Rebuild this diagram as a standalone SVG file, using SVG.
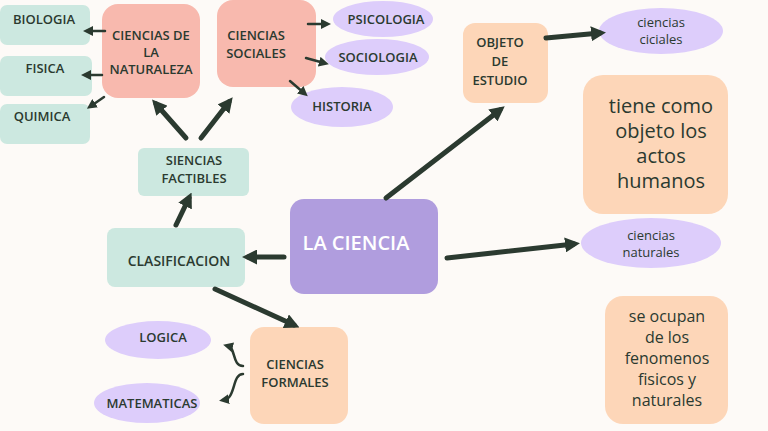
<svg xmlns="http://www.w3.org/2000/svg" width="768" height="431" viewBox="0 0 768 431">
<defs>
<style>
.t{font-family:"Open Sans","DejaVu Sans",sans-serif;fill:#2b3a30;font-size:13px;font-weight:600;text-anchor:middle}
.l{font-weight:400}
.b{font-size:20px}
.c{stroke:#2b3a30;stroke-width:2.5;fill:none;stroke-linecap:round}
.k{stroke-width:5}
.teal{fill:#cce8e0}.pink{fill:#f8b9ae}.lav{fill:#ddcdfb}.peach{fill:#fdd6b8}.main{fill:#b09dde}
</style>
<marker id="a" viewBox="0 0 10 10" refX="6" refY="5" markerWidth="3" markerHeight="3" orient="auto"><path d="M0,0L10,5L0,10z" fill="#2b3a30"/></marker>
<marker id="s" viewBox="0 0 10 10" refX="5" refY="5" markerWidth="10" markerHeight="10" markerUnits="userSpaceOnUse" orient="auto"><path d="M0,0L10,5L0,10z" fill="#2b3a30"/></marker>
</defs>
<rect width="768" height="431" fill="#fdfaf7"/>
<g id="biologia"><rect class="teal" x="0" y="5" width="90" height="40" rx="7"/><text class="t" x="44" y="24">BIOLOGIA</text></g>
<g id="fisica"><rect class="teal" x="0" y="56" width="92" height="40" rx="7"/><text class="t" x="45" y="73">FISICA</text></g>
<g id="quimica"><rect class="teal" x="0" y="104" width="90" height="40" rx="7"/><text class="t" x="42" y="121">QUIMICA</text></g>
<g id="naturaleza"><rect class="pink" x="102" y="4" width="98" height="94" rx="16"/><text class="t" x="151" y="40">CIENCIAS DE<tspan x="151" dy="17">LA</tspan><tspan x="151" dy="17">NATURALEZA</tspan></text></g>
<g id="sociales"><rect class="pink" x="217" y="0" width="99" height="87" rx="16"/><text class="t" x="256" y="40">CIENCIAS<tspan x="256" dy="18">SOCIALES</tspan></text></g>
<g id="psicologia"><ellipse class="lav" cx="383" cy="19" rx="50" ry="18"/><text class="t" x="386" y="24">PSICOLOGIA</text></g>
<g id="sociologia"><ellipse class="lav" cx="377" cy="57" rx="52" ry="18"/><text class="t" x="378" y="62">SOCIOLOGIA</text></g>
<g id="historia"><ellipse class="lav" cx="342" cy="107" rx="51" ry="20"/><text class="t" x="342" y="111">HISTORIA</text></g>
<g id="factibles"><rect class="teal" x="138" y="148" width="111" height="48" rx="6"/><text class="t" x="194" y="165">SIENCIAS<tspan x="194" dy="18">FACTIBLES</tspan></text></g>
<g id="clasificacion"><rect class="teal" x="107" y="228" width="138" height="59" rx="8"/><text class="t" x="179" y="266" style="font-size:14px">CLASIFICACION</text></g>
<g id="laciencia"><rect class="main" x="290" y="199" width="148" height="95" rx="14"/><text class="t" x="356" y="250" style="fill:#fff;font-size:20px">LA CIENCIA</text></g>
<g id="logica"><ellipse class="lav" cx="158" cy="340" rx="53" ry="19"/><text class="t" x="163" y="342">LOGICA</text></g>
<g id="matematicas"><ellipse class="lav" cx="147" cy="403" rx="53" ry="20"/><text class="t" x="152" y="408">MATEMATICAS</text></g>
<g id="formales"><rect class="peach" x="250" y="327" width="98" height="97" rx="14"/><text class="t" x="295" y="369">CIENCIAS<tspan x="295" dy="18">FORMALES</tspan></text></g>
<g id="objeto"><rect class="peach" x="463" y="23" width="85" height="80" rx="12"/><text class="t" x="500" y="47">OBJETO<tspan x="500" dy="19">DE</tspan><tspan x="500" dy="19">ESTUDIO</tspan></text></g>
<g id="ciciales"><ellipse class="lav" cx="661" cy="31" rx="62" ry="23"/><text class="t l" x="661" y="27">ciencias<tspan x="661" dy="17">ciciales</tspan></text></g>
<g id="tiene"><rect class="peach" x="583" y="75" width="145" height="139" rx="20"/><text class="t l b" x="661" y="113">tiene como<tspan x="661" dy="25">objeto los</tspan><tspan x="661" dy="25">actos</tspan><tspan x="661" dy="25">humanos</tspan></text></g>
<g id="naturales"><ellipse class="lav" cx="651" cy="243" rx="70" ry="25"/><text class="t l" x="651" y="240">ciencias<tspan x="651" dy="17">naturales</tspan></text></g>
<g id="seocupan"><rect class="peach" x="605" y="296" width="123" height="128" rx="18"/><text class="t l" x="667" y="322" style="font-size:16px">se ocupan<tspan x="667" dy="21">de los</tspan><tspan x="667" dy="21">fenomenos</tspan><tspan x="667" dy="21">fisicos y</tspan><tspan x="667" dy="21">naturales</tspan></text></g>
<g id="connectors">
<path class="c" d="M105,31L88,31" marker-end="url(#s)"/>
<path class="c" d="M102,75L86,75" marker-end="url(#s)"/>
<path class="c" d="M104,97L91,106" marker-end="url(#s)"/>
<path class="c" d="M308,24L326,24" marker-end="url(#s)"/>
<path class="c" d="M306,58L324,63" marker-end="url(#s)"/>
<path class="c" d="M290,81L304,93" marker-end="url(#s)"/>
<path class="c k" d="M186,138L156,104" marker-end="url(#a)"/>
<path class="c k" d="M201,138L229,102" marker-end="url(#a)"/>
<path class="c k" d="M176,225L189,198" marker-end="url(#a)"/>
<path class="c k" d="M284,257L248,257" marker-end="url(#a)"/>
<path class="c k" d="M215,289L294,325" marker-end="url(#a)"/>
<path class="c" d="M243,366C232,366 236,348 228,346" marker-end="url(#s)"/>
<path class="c" d="M243,374C232,374 236,398 224,400" marker-end="url(#s)"/>
<path class="c k" d="M386,198L500,110" marker-end="url(#a)"/>
<path class="c k" d="M546,38L600,33" marker-end="url(#a)"/>
<path class="c k" d="M447,258L574,244" marker-end="url(#a)"/>
</g>
</svg>
